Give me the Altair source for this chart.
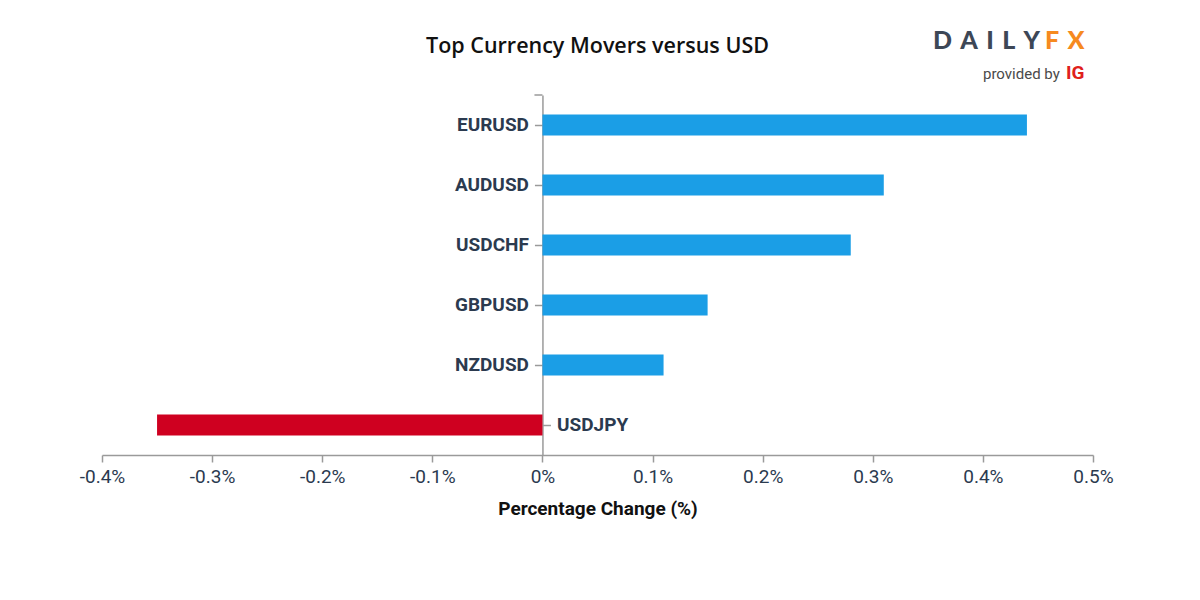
import altair as alt
import pandas as pd

# Daily percentage change of the major pairs against the US dollar
pairs = ["EURUSD", "AUDUSD", "USDCHF", "GBPUSD", "NZDUSD", "USDJPY"]
changes = [0.44, 0.31, 0.28, 0.15, 0.11, -0.35]
x_ticks = [-0.4, -0.3, -0.2, -0.1, 0, 0.1, 0.2, 0.3, 0.4, 0.5]

df = pd.DataFrame({"pair": pairs, "change": changes})
one = df.head(1)

W, H = 991, 360
x_min, x_max = x_ticks[0], x_ticks[-1]
zero_px = W * (0 - x_min) / (x_max - x_min)

BLUE = "#1b9ee6"
RED = "#cf0020"
INK = "#2b3a4f"
GREY = "#9a9a9a"
SP = "\u2004"  # three-per-em space for the letter-spaced brand name

x_scale = alt.Scale(domain=[x_min, x_max], nice=False, zero=False)
x_enc = alt.X(
    "change:Q",
    scale=x_scale,
    axis=alt.Axis(
        values=x_ticks,
        labelExpr="datum.value + '%'",
        labelFlush=False,
        grid=False,
        domainColor=GREY,
        domainWidth=1.5,
        tickColor=GREY,
        tickWidth=1.5,
        tickSize=7,
        labelFont="Roboto",
        labelFontSize=19,
        labelColor=INK,
        labelPadding=5,
        title="Percentage Change (%)",
        titleFont="Roboto",
        titleFontSize=19,
        titleFontWeight="bold",
        titleColor="#111111",
        titlePadding=13,
    ),
)

y_scale = alt.Scale(domain=pairs, paddingInner=0, paddingOuter=0)
label_style = dict(
    title=None,
    labelFont="Roboto",
    labelFontSize=19,
    labelFontWeight="bold",
    labelColor=INK,
    labelPadding=6,
    tickSize=8,
    tickColor=GREY,
    tickWidth=1.5,
)

# Left-hand category axis pinned to the zero line (gains)
bars = alt.Chart(df).mark_bar(size=21).encode(
    x=x_enc,
    y=alt.Y(
        "pair:N",
        sort=pairs,
        scale=y_scale,
        axis=alt.Axis(
            orient="left",
            offset=-zero_px,
            labelExpr="datum.value == 'USDJPY' ? '' : datum.value",
            tickOpacity={"condition": {"test": "datum.value == 'USDJPY'", "value": 0}, "value": 1},
            domainColor=GREY,
            domainWidth=1.5,
            **label_style,
        ),
    ),
    color=alt.condition(alt.datum.change >= 0, alt.value(BLUE), alt.value(RED)),
)

# Right-hand category axis at the zero line (losses)
right_axis = alt.Chart(df).mark_point(opacity=0).encode(
    x=x_enc,
    y=alt.Y(
        "pair:N",
        sort=pairs,
        scale=y_scale,
        axis=alt.Axis(
            orient="right",
            offset=-(W - zero_px),
            domain=False,
            labelExpr="datum.value == 'USDJPY' ? datum.value : ''",
            tickOpacity={"condition": {"test": "datum.value == 'USDJPY'", "value": 1}, "value": 0},
            **label_style,
        ),
    ),
)

# Small cap at the top of the zero line
cap = alt.Chart(one).mark_rule(color=GREY, strokeWidth=1.5).encode(
    x=alt.value(zero_px - 8), x2=alt.value(zero_px), y=alt.value(0)
)

# Chart heading
heading = alt.Chart(one).mark_text(
    text="Top Currency Movers versus USD", font="Open Sans", fontSize=21.5,
    fontWeight=600, color="#111111", align="center", baseline="alphabetic",
).encode(x=alt.value(W / 2), y=alt.value(-42))

# Brand mark
logo_main = alt.Chart(one).mark_text(
    text=SP.join("DAILY"), font="Lato", fontSize=25, fontWeight=900, color="#3d4756",
    align="left", baseline="alphabetic",
).encode(x=alt.value(831), y=alt.value(-46))
logo_fx = alt.Chart(one).mark_text(
    text=SP.join("FX"), font="Lato", fontSize=25, fontWeight=900, color="#f68a1f",
    align="left", baseline="alphabetic",
).encode(x=alt.value(943), y=alt.value(-46))
logo_by = alt.Chart(one).mark_text(
    text="provided by", font="Roboto", fontSize=15, color="#4a4a4a",
    align="left", baseline="alphabetic",
).encode(x=alt.value(881), y=alt.value(-16))
logo_ig = alt.Chart(one).mark_text(
    text="IG", font="Roboto", fontSize=19, fontWeight="bold", color="#e0201b",
    align="left", baseline="alphabetic",
).encode(x=alt.value(964), y=alt.value(-16))

chart = (
    alt.layer(bars, right_axis, cap, heading, logo_main, logo_fx, logo_by, logo_ig)
    .resolve_axis(y="independent")
    .properties(
        width=W,
        height=H,
        autosize=alt.AutoSizeParams(type="none"),
        padding={"left": 102, "top": 95, "right": 107, "bottom": 145},
        background="white",
    )
    .configure_view(stroke=None)
)

chart.save("out.html", embed_options={"renderer": "svg", "actions": False})
